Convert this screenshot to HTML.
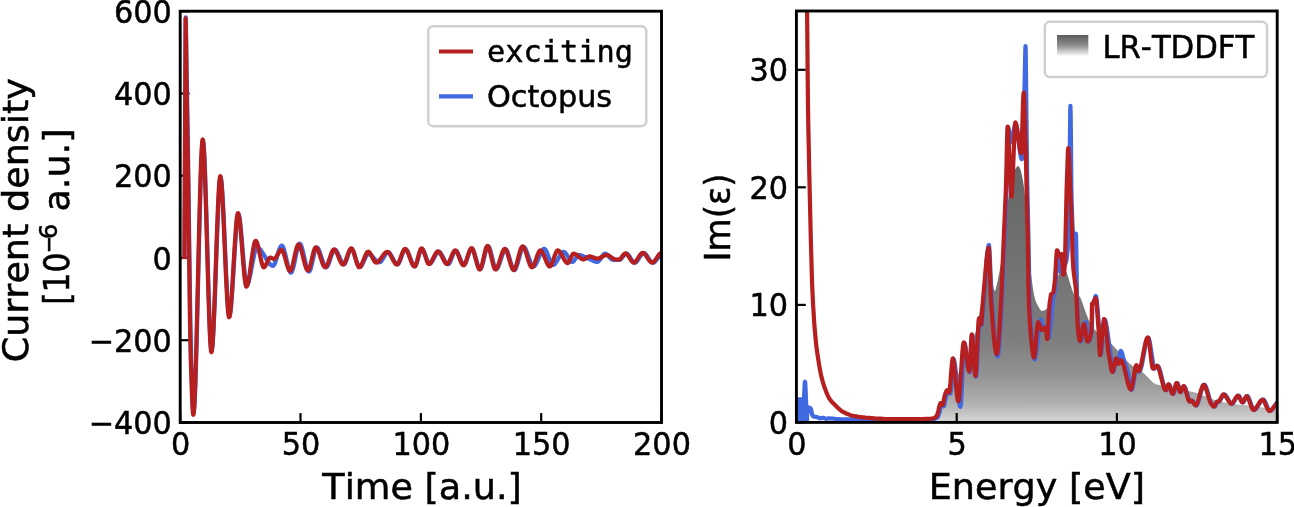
<!DOCTYPE html>
<html lang="en"><head><meta charset="utf-8"><title>RT-TDDFT: exciting vs Octopus</title>
<style>html,body{margin:0;padding:0;background:#fff}svg{display:block}text{font-family:"DejaVu Sans","Liberation Sans",sans-serif;fill:#000;font-kerning:none}.mono{font-family:"DejaVu Sans Mono","Liberation Mono",monospace}</style></head><body>
<svg width="1294" height="507" viewBox="0 0 1294 507">
<defs>
<linearGradient id="gfill" gradientUnits="userSpaceOnUse" x1="0" y1="166" x2="0" y2="422.4"><stop offset="0.000" stop-color="#666666"/><stop offset="0.328" stop-color="#707070"/><stop offset="0.523" stop-color="#787878"/><stop offset="0.679" stop-color="#7e7e7e"/><stop offset="0.819" stop-color="#939393"/><stop offset="0.928" stop-color="#b1b1b1"/><stop offset="1.000" stop-color="#d8d8d8"/></linearGradient>
<linearGradient id="gleg" x1="0" y1="0" x2="0" y2="1"><stop offset="0" stop-color="#5c5c5c"/><stop offset="0.5" stop-color="#8c8c8c"/><stop offset="1" stop-color="#f4f4f4"/></linearGradient>
<clipPath id="cl"><rect x="180.2" y="11.2" width="481.3" height="411.3"/></clipPath>
<clipPath id="cr"><rect x="796.4" y="11.0" width="480.8" height="411.4"/></clipPath>
</defs>
<rect width="1294" height="507" fill="#fff"/>
<path clip-path="url(#cr)" d="M937.5 422.4 L938.5 416.0 L939.5 411.0 L940.5 407.3 L941.5 404.5 L942.5 402.5 L944.5 399.0 L948.0 390.4 L952.5 380.6 L953.5 378.8 L954.5 377.4 L957.5 374.6 L959.0 372.7 L964.0 364.8 L966.0 361.4 L967.5 358.3 L968.5 355.9 L970.0 352.0 L971.5 347.6 L973.0 342.6 L974.5 337.0 L977.0 326.0 L978.5 318.0 L984.0 284.7 L986.5 271.4 L987.0 269.4 L987.5 268.0 L988.5 265.9 L989.0 265.3 L989.5 265.0 L990.0 265.4 L990.5 266.5 L991.5 270.0 L992.0 273.5 L993.0 284.4 L993.5 288.1 L994.0 289.6 L994.5 290.6 L995.0 291.0 L995.5 290.1 L997.5 281.7 L999.0 274.2 L1001.5 260.2 L1003.0 250.6 L1004.0 243.0 L1004.5 238.3 L1007.0 210.0 L1008.5 196.9 L1009.5 190.0 L1010.5 184.7 L1011.5 180.3 L1012.5 176.6 L1013.5 173.6 L1014.5 170.9 L1015.5 168.7 L1016.0 167.9 L1017.0 166.7 L1017.5 166.2 L1018.0 166.0 L1018.5 166.2 L1019.0 166.8 L1019.8 168.0 L1020.5 169.8 L1021.0 171.6 L1022.0 176.0 L1023.0 181.1 L1024.0 187.5 L1024.5 191.5 L1025.0 196.0 L1025.5 202.3 L1028.0 244.3 L1029.0 258.0 L1030.0 266.5 L1032.5 285.2 L1033.5 292.0 L1034.5 297.0 L1035.5 300.4 L1036.5 303.0 L1037.5 305.0 L1039.5 308.5 L1040.5 309.9 L1041.0 310.4 L1041.5 310.7 L1042.0 310.8 L1042.5 310.8 L1044.0 310.4 L1045.5 309.8 L1046.5 309.1 L1047.5 308.1 L1048.0 307.5 L1049.0 305.9 L1050.0 303.9 L1051.0 301.5 L1052.0 299.0 L1053.0 296.0 L1056.0 285.0 L1058.5 275.0 L1060.0 270.8 L1061.0 268.5 L1061.5 267.8 L1062.0 267.5 L1063.0 267.6 L1064.0 267.8 L1064.5 268.2 L1065.0 269.0 L1066.5 272.1 L1067.5 274.9 L1072.0 289.4 L1073.0 292.0 L1074.0 294.1 L1074.5 295.0 L1075.0 295.7 L1075.5 296.0 L1079.3 296.3 L1079.5 296.4 L1080.0 296.9 L1081.0 299.1 L1083.0 304.5 L1086.0 313.3 L1088.5 319.4 L1089.5 321.5 L1091.0 324.3 L1092.5 326.6 L1094.5 329.4 L1097.5 332.8 L1100.5 335.6 L1102.5 337.2 L1107.5 340.5 L1110.0 342.6 L1112.0 344.6 L1122.8 356.3 L1127.0 361.0 L1129.0 363.0 L1132.0 365.6 L1135.5 368.2 L1137.5 369.4 L1141.5 371.7 L1143.5 373.1 L1145.0 374.4 L1149.0 378.6 L1152.5 381.9 L1154.5 383.5 L1155.5 384.1 L1156.5 384.4 L1160.5 385.2 L1168.5 387.2 L1175.0 388.5 L1189.5 391.3 L1197.0 393.1 L1201.0 394.4 L1210.5 398.4 L1215.0 400.1 L1218.0 401.0 L1222.5 402.0 L1229.5 403.4 L1235.0 404.3 L1239.5 404.8 L1251.0 405.8 L1255.0 406.2 L1266.0 407.9 L1271.5 408.9 L1274.0 409.3 L1276.5 409.5 L1280.0 409.5 L1280.0 422.4 L937.5 422.4 Z" fill="url(#gfill)" stroke="none"/>
<g stroke="#000" stroke-width="2.2" fill="none">
<line x1="180.2" y1="422.5" x2="180.2" y2="413.1"/>
<line x1="300.5" y1="422.5" x2="300.5" y2="413.1"/>
<line x1="420.9" y1="422.5" x2="420.9" y2="413.1"/>
<line x1="541.2" y1="422.5" x2="541.2" y2="413.1"/>
<line x1="661.5" y1="422.5" x2="661.5" y2="413.1"/>
<line x1="180.2" y1="422.5" x2="189.6" y2="422.5"/>
<line x1="180.2" y1="340.2" x2="189.6" y2="340.2"/>
<line x1="180.2" y1="258.0" x2="189.6" y2="258.0"/>
<line x1="180.2" y1="175.7" x2="189.6" y2="175.7"/>
<line x1="180.2" y1="93.5" x2="189.6" y2="93.5"/>
<line x1="180.2" y1="11.2" x2="189.6" y2="11.2"/>
<line x1="796.4" y1="422.4" x2="796.4" y2="413.0"/>
<line x1="956.7" y1="422.4" x2="956.7" y2="413.0"/>
<line x1="1116.9" y1="422.4" x2="1116.9" y2="413.0"/>
<line x1="1277.2" y1="422.4" x2="1277.2" y2="413.0"/>
<line x1="796.4" y1="422.4" x2="805.8" y2="422.4"/>
<line x1="796.4" y1="304.9" x2="805.8" y2="304.9"/>
<line x1="796.4" y1="187.3" x2="805.8" y2="187.3"/>
<line x1="796.4" y1="69.8" x2="805.8" y2="69.8"/>
</g>
<g clip-path="url(#cl)" fill="none" stroke-linejoin="round" stroke-linecap="butt">
<path d="M184.5 259.0 L185.7 17.4 L185.9 21.8 L186.1 32.8 L186.6 68.0 L188.0 150.0 L190.1 303.6 L190.7 338.4 L191.2 360.0 L192.3 394.7 L192.9 407.9 L193.3 412.4 L193.5 413.0 L193.7 412.6 L193.9 411.6 L194.5 404.6 L194.9 397.1 L195.5 382.0 L196.7 341.3 L199.5 224.9 L200.7 181.5 L201.3 164.5 L201.9 151.6 L202.5 143.7 L202.7 142.3 L202.9 141.6 L203.0 141.5 L203.1 141.6 L203.3 142.2 L203.5 143.5 L203.9 147.9 L204.3 154.4 L204.9 167.6 L205.9 196.8 L208.5 288.6 L209.5 319.2 L210.1 333.6 L210.7 344.1 L211.1 348.5 L211.3 349.8 L211.5 350.4 L211.6 350.5 L211.9 349.9 L212.1 349.0 L212.5 345.7 L212.9 340.7 L213.5 330.7 L214.7 303.2 L217.3 230.6 L218.3 206.0 L218.9 194.1 L219.5 185.1 L220.1 179.5 L220.3 178.6 L220.6 178.0 L220.9 178.5 L221.1 179.3 L221.5 182.0 L221.9 186.1 L222.5 194.5 L223.7 217.2 L226.1 272.2 L227.3 296.0 L227.9 305.1 L228.5 311.8 L228.9 314.5 L229.1 315.3 L229.4 315.8 L229.7 315.5 L229.9 314.9 L230.5 311.6 L231.1 306.3 L231.7 299.3 L232.7 284.9 L235.3 242.3 L236.5 226.1 L237.1 220.2 L237.5 217.3 L237.9 215.4 L238.1 214.8 L238.4 214.5 L238.7 214.8 L238.9 215.2 L239.3 216.7 L239.9 220.3 L240.5 225.3 L241.5 235.8 L243.9 264.9 L245.1 276.9 L245.7 281.2 L246.1 283.2 L246.5 284.6 L246.7 284.9 L246.9 285.0 L247.3 284.8 L247.9 284.0 L248.5 282.5 L249.1 280.4 L250.5 274.1 L253.1 260.0 L254.3 254.1 L254.9 251.7 L255.5 249.7 L256.1 248.3 L256.7 247.6 L257.0 247.5 L257.5 247.6 L258.3 247.8 L259.1 248.4 L260.3 249.5 L261.3 250.8 L262.5 252.6 L266.9 259.9 L268.9 262.9 L270.1 264.3 L271.1 265.1 L272.1 265.7 L272.9 265.8 L273.5 265.5 L273.9 265.1 L274.5 264.1 L275.1 262.7 L276.3 259.2 L278.7 251.2 L279.5 248.9 L280.1 247.5 L280.7 246.4 L281.1 246.0 L281.7 245.6 L282.1 245.7 L282.5 246.1 L283.1 247.1 L284.1 249.8 L285.3 254.4 L287.7 264.7 L288.9 269.1 L289.9 271.6 L290.5 272.5 L291.0 272.7 L291.5 272.4 L292.1 271.4 L293.1 268.4 L294.3 263.4 L296.7 251.7 L297.9 246.9 L298.5 245.2 L298.9 244.4 L299.3 243.9 L299.7 243.7 L300.1 243.8 L300.7 244.6 L301.3 245.9 L301.7 247.0 L302.9 251.3 L305.5 262.7 L306.7 267.3 L307.3 269.1 L307.9 270.5 L308.5 271.4 L309.0 271.6 L309.3 271.5 L309.5 271.3 L309.9 270.7 L310.3 269.8 L310.9 268.0 L311.9 264.1 L314.1 254.1 L315.1 250.3 L315.9 248.3 L316.3 247.7 L316.5 247.5 L316.8 247.4 L317.3 247.6 L317.7 247.9 L318.7 249.5 L319.9 252.5 L322.7 261.1 L323.9 264.3 L324.5 265.6 L325.1 266.6 L325.7 267.1 L326.2 267.3 L326.7 267.1 L327.1 266.8 L327.5 266.2 L328.1 265.1 L329.3 262.1 L331.5 255.4 L332.5 252.7 L333.5 250.7 L334.3 249.8 L334.8 249.6 L335.3 249.7 L335.9 250.2 L336.5 250.9 L337.9 253.5 L340.5 259.5 L341.7 262.0 L342.3 263.0 L342.9 263.7 L343.5 264.2 L344.0 264.3 L344.3 264.2 L344.7 263.9 L345.1 263.3 L345.7 262.1 L346.7 259.4 L348.9 252.5 L349.7 250.5 L350.5 249.2 L350.9 248.9 L351.2 248.8 L351.7 249.0 L352.1 249.4 L352.5 249.9 L353.1 251.1 L354.1 253.6 L356.5 261.0 L357.7 264.3 L358.3 265.5 L358.9 266.4 L359.3 266.8 L359.8 267.0 L360.3 266.9 L360.7 266.6 L361.7 265.4 L362.9 263.1 L365.1 258.3 L366.1 256.3 L367.1 254.8 L367.9 254.1 L368.4 254.0 L369.1 254.1 L369.9 254.4 L370.7 254.9 L372.3 256.4 L375.7 260.1 L376.9 261.1 L378.3 262.0 L378.9 262.2 L379.5 262.3 L379.9 262.2 L380.5 261.9 L381.5 260.9 L382.5 259.4 L384.7 255.6 L385.9 253.7 L386.9 252.7 L387.3 252.4 L387.9 252.2 L388.5 252.3 L389.1 252.7 L389.7 253.2 L390.3 254.0 L391.5 255.9 L394.3 261.1 L395.5 262.9 L396.1 263.6 L396.7 264.1 L397.1 264.2 L397.7 264.3 L398.1 264.1 L398.5 263.6 L399.5 261.9 L400.5 259.5 L402.7 253.4 L403.7 251.2 L404.3 250.1 L404.7 249.6 L405.1 249.3 L405.5 249.2 L406.1 249.4 L406.5 249.8 L407.5 251.2 L408.7 253.9 L411.3 260.9 L412.3 263.3 L412.9 264.4 L413.5 265.4 L413.9 265.9 L414.5 266.2 L414.9 266.3 L415.3 266.1 L415.7 265.5 L416.3 264.3 L417.3 261.3 L419.3 254.0 L420.1 251.6 L420.9 249.8 L421.3 249.2 L421.8 249.0 L422.3 249.2 L422.7 249.6 L423.5 250.8 L424.5 253.1 L427.5 261.2 L428.5 263.0 L428.9 263.5 L429.3 263.7 L429.7 263.8 L430.3 263.6 L430.9 263.1 L431.5 262.5 L432.7 260.6 L435.5 255.3 L436.7 253.4 L437.3 252.7 L437.9 252.1 L438.3 251.9 L438.9 251.8 L439.3 251.9 L439.9 252.3 L440.5 252.9 L441.1 253.8 L442.3 255.8 L444.9 261.0 L446.1 262.9 L446.7 263.6 L447.3 264.1 L447.9 264.3 L448.3 264.2 L448.7 264.0 L449.1 263.6 L450.1 261.9 L451.1 259.6 L453.1 254.5 L454.1 252.4 L454.9 251.3 L455.3 251.0 L455.8 250.8 L456.3 251.0 L456.7 251.3 L457.7 252.8 L458.9 255.5 L461.1 261.2 L462.1 263.4 L462.7 264.3 L463.1 264.7 L463.5 264.9 L463.9 265.0 L464.3 264.8 L464.9 264.2 L465.9 262.2 L466.7 260.1 L469.1 252.9 L470.1 250.5 L470.7 249.4 L471.1 248.9 L471.5 248.7 L471.9 248.6 L472.5 249.0 L472.9 249.6 L473.9 251.9 L474.9 255.1 L477.3 263.8 L478.3 266.7 L478.7 267.6 L479.3 268.7 L479.7 269.1 L480.1 269.2 L480.5 269.0 L481.1 268.2 L482.1 265.7 L483.1 262.1 L485.3 253.0 L486.5 248.9 L487.1 247.4 L487.5 246.8 L487.9 246.4 L488.3 246.3 L488.7 246.6 L489.1 247.1 L489.5 247.9 L490.1 249.6 L491.1 253.2 L493.9 264.7 L494.9 267.7 L495.3 268.5 L495.7 269.0 L496.1 269.3 L496.7 269.1 L497.3 268.5 L498.1 267.2 L499.5 263.6 L502.1 255.6 L503.3 252.3 L503.9 251.0 L504.5 250.1 L505.1 249.5 L505.6 249.3 L506.1 249.5 L506.5 249.9 L507.1 250.9 L507.7 252.4 L508.9 256.0 L511.3 264.5 L512.5 267.9 L513.1 269.1 L513.5 269.7 L513.9 270.1 L514.3 270.2 L514.7 270.1 L515.3 269.4 L515.9 268.4 L516.3 267.4 L517.5 263.9 L520.1 254.4 L521.3 250.6 L521.9 249.0 L522.5 247.9 L523.1 247.2 L523.5 247.0 L523.9 247.1 L524.5 247.4 L525.1 248.2 L525.7 249.3 L527.1 252.6 L529.7 260.1 L531.1 263.6 L531.7 264.8 L532.3 265.7 L532.9 266.3 L533.5 266.5 L533.9 266.4 L534.5 266.1 L535.3 265.2 L535.9 264.2 L537.3 261.4 L540.1 254.6 L541.5 251.6 L542.3 250.3 L542.9 249.5 L543.5 249.0 L544.1 248.8 L544.7 248.9 L545.1 249.3 L546.1 250.7 L547.3 253.4 L549.5 259.4 L550.7 262.3 L551.3 263.4 L551.9 264.3 L552.5 264.9 L553.0 265.0 L553.5 264.9 L554.1 264.6 L554.7 264.1 L555.3 263.4 L556.7 261.4 L559.7 255.9 L560.9 254.0 L561.5 253.2 L562.3 252.4 L562.9 252.0 L563.5 251.8 L563.9 251.8 L564.5 252.1 L565.5 253.0 L566.7 254.8 L568.9 258.7 L569.9 260.3 L570.5 261.0 L571.1 261.6 L571.5 261.9 L572.1 262.0 L572.9 261.7 L573.7 261.1 L574.5 260.1 L577.1 256.3 L578.1 255.3 L578.5 255.1 L578.9 255.0 L580.5 255.2 L582.5 255.9 L586.9 258.0 L589.1 258.9 L593.9 261.2 L595.7 261.7 L597.3 261.9 L598.1 261.7 L598.9 261.0 L600.1 259.5 L602.3 256.1 L603.1 255.1 L604.1 254.0 L604.9 253.6 L605.3 253.6 L605.9 253.7 L607.1 254.5 L608.1 255.5 L610.7 258.5 L611.5 259.2 L612.3 259.7 L612.9 259.8 L619.5 259.8 L620.3 259.6 L621.3 258.8 L623.9 255.4 L624.9 254.3 L625.7 253.8 L626.5 253.6 L626.9 253.7 L627.5 254.0 L628.5 255.0 L629.5 256.4 L631.9 260.3 L633.1 261.8 L634.1 262.6 L634.9 262.8 L635.5 262.6 L635.9 262.4 L637.1 261.2 L638.3 259.4 L640.5 255.9 L641.7 254.3 L642.7 253.3 L643.3 253.1 L643.7 253.0 L644.3 253.1 L644.9 253.4 L646.1 254.6 L647.1 256.0 L649.9 260.3 L651.1 261.7 L652.1 262.5 L652.5 262.7 L653.1 262.8 L653.5 262.7 L654.1 262.5 L655.3 261.4 L656.5 260.0 L659.1 256.5 L660.3 255.2 L660.9 254.8 L661.5 254.5 L662.9 254.1 L664.0 254.0" stroke="#4169e1" stroke-width="4.2"/>
<path d="M184.4 259.0 L185.6 18.4 L185.8 25.6 L186.3 68.0 L188.2 183.5 L189.8 310.0 L190.2 333.9 L190.8 360.0 L192.0 396.2 L192.6 408.8 L193.0 413.6 L193.2 414.6 L193.3 414.7 L193.4 414.6 L193.6 413.9 L193.8 412.4 L194.2 407.6 L194.6 400.4 L195.2 385.5 L196.4 344.6 L199.2 225.6 L200.4 180.9 L201.0 163.2 L201.6 149.9 L202.2 141.8 L202.4 140.3 L202.6 139.6 L202.7 139.5 L202.8 139.6 L203.0 140.2 L203.2 141.5 L203.6 145.9 L204.2 156.3 L204.8 170.7 L206.0 208.1 L208.4 293.8 L209.6 328.6 L210.2 341.2 L210.6 347.1 L211.0 350.9 L211.2 351.9 L211.4 352.2 L211.6 351.9 L211.8 351.2 L212.4 346.0 L213.0 337.2 L213.6 325.2 L214.8 294.8 L217.2 225.4 L218.4 196.8 L219.0 186.4 L219.4 181.2 L219.8 177.8 L220.0 176.8 L220.3 176.2 L220.6 176.7 L220.8 177.5 L221.4 182.3 L222.4 196.5 L223.6 220.8 L226.0 277.1 L227.2 300.4 L227.8 309.0 L228.2 313.2 L228.6 316.0 L228.8 316.8 L229.1 317.3 L229.4 316.9 L229.6 316.4 L230.0 314.3 L230.4 311.3 L231.0 305.1 L232.2 288.2 L234.6 247.1 L235.8 229.1 L236.4 222.0 L237.0 216.8 L237.6 213.7 L237.8 213.3 L238.0 213.1 L238.2 213.2 L238.4 213.6 L238.8 215.0 L239.2 217.2 L239.8 221.8 L241.0 234.5 L243.2 262.7 L244.2 274.1 L244.8 279.6 L245.4 283.7 L246.0 286.1 L246.2 286.5 L246.4 286.6 L246.8 286.4 L247.4 285.1 L247.8 283.8 L248.4 281.2 L249.6 274.1 L252.2 255.4 L253.4 247.8 L254.0 244.8 L254.6 242.6 L255.2 241.2 L255.4 240.9 L255.7 240.8 L256.2 241.1 L256.6 241.7 L257.0 242.6 L257.6 244.5 L258.6 248.6 L260.8 259.1 L261.6 262.5 L262.6 265.7 L263.0 266.6 L263.4 267.1 L263.8 267.3 L264.2 267.2 L264.6 266.9 L265.2 266.1 L266.0 264.7 L268.4 259.6 L269.0 258.6 L269.6 257.9 L270.0 257.7 L270.6 257.6 L271.2 257.8 L273.0 258.7 L273.6 258.9 L274.2 258.9 L274.8 258.6 L275.6 257.9 L276.4 256.7 L278.8 252.6 L279.8 251.1 L280.4 250.4 L280.8 250.1 L281.2 249.9 L281.6 249.9 L282.0 250.1 L282.6 250.8 L283.6 253.1 L284.6 256.1 L287.2 265.4 L288.2 268.4 L288.8 269.7 L289.2 270.4 L289.6 270.8 L290.1 271.0 L290.6 270.7 L291.2 269.8 L292.2 266.9 L293.2 262.8 L295.6 251.8 L296.6 247.9 L297.2 246.2 L297.6 245.3 L298.0 244.8 L298.5 244.5 L299.0 244.7 L299.6 245.5 L300.6 247.8 L301.8 251.9 L304.4 262.4 L305.6 266.6 L306.2 268.3 L306.8 269.5 L307.4 270.3 L307.9 270.5 L308.4 270.2 L308.8 269.7 L309.6 267.8 L310.6 264.2 L312.8 254.9 L313.8 251.1 L314.8 248.4 L315.4 247.6 L315.8 247.4 L316.4 247.6 L317.0 248.3 L317.6 249.3 L318.2 250.6 L319.4 253.9 L322.0 261.9 L323.2 265.0 L324.2 266.7 L324.6 267.1 L325.2 267.3 L325.8 267.1 L326.2 266.7 L327.2 265.0 L328.4 262.0 L331.6 252.8 L332.6 250.8 L333.2 249.9 L333.6 249.6 L334.1 249.4 L334.6 249.5 L335.2 250.0 L335.8 250.8 L337.0 253.2 L339.8 260.1 L340.8 262.2 L341.4 263.2 L342.0 264.0 L342.6 264.4 L343.0 264.5 L343.4 264.4 L343.8 264.1 L344.2 263.6 L344.8 262.6 L346.0 259.8 L348.2 253.6 L349.2 251.1 L349.8 249.9 L350.4 249.0 L350.8 248.6 L351.4 248.4 L351.8 248.5 L352.2 248.9 L353.0 250.4 L354.0 253.2 L356.4 261.5 L357.4 264.6 L358.0 265.9 L358.4 266.6 L358.8 267.1 L359.3 267.3 L359.8 267.2 L360.2 266.9 L361.2 265.5 L362.4 262.9 L364.8 256.8 L366.0 254.1 L366.6 253.0 L367.2 252.2 L367.8 251.8 L368.2 251.7 L368.6 251.8 L369.0 252.0 L369.8 252.8 L371.0 254.8 L373.2 259.1 L374.2 260.9 L375.2 262.1 L375.6 262.4 L376.2 262.6 L376.8 262.5 L377.6 262.1 L378.4 261.5 L379.0 260.9 L380.6 258.9 L383.6 254.7 L385.2 252.9 L385.8 252.4 L386.6 252.0 L387.2 251.9 L387.8 252.0 L388.2 252.2 L388.8 252.7 L390.0 254.3 L391.0 256.1 L393.6 261.1 L394.8 262.9 L395.4 263.7 L396.0 264.2 L396.6 264.5 L397.2 264.4 L397.6 264.2 L398.2 263.4 L399.2 261.5 L402.2 253.4 L403.2 251.0 L404.2 249.4 L404.6 249.1 L405.1 248.9 L405.6 249.0 L406.2 249.6 L406.8 250.4 L407.6 252.0 L408.8 254.9 L411.2 261.5 L412.4 264.3 L413.0 265.3 L413.6 266.1 L414.2 266.4 L414.6 266.5 L415.0 266.2 L415.4 265.7 L415.8 264.9 L416.4 263.3 L417.2 260.6 L419.0 253.9 L420.0 250.7 L420.8 249.0 L421.2 248.6 L421.6 248.4 L422.0 248.5 L422.4 248.9 L423.2 250.3 L424.2 252.8 L427.0 261.2 L428.0 263.2 L428.4 263.7 L428.8 264.0 L429.2 264.0 L429.8 263.7 L430.8 262.7 L432.0 260.7 L434.6 255.4 L435.8 253.3 L436.4 252.4 L437.0 251.8 L437.6 251.5 L438.0 251.4 L438.4 251.5 L439.0 251.8 L439.6 252.4 L440.2 253.3 L441.4 255.4 L444.0 260.7 L445.2 262.7 L445.8 263.4 L446.4 263.8 L447.0 264.0 L447.4 263.9 L447.8 263.6 L448.2 263.2 L449.2 261.6 L450.2 259.5 L452.4 254.2 L453.4 252.2 L454.4 250.8 L454.8 250.5 L455.3 250.4 L455.8 250.6 L456.4 251.1 L457.4 252.8 L458.4 255.2 L460.6 261.0 L461.8 263.6 L462.2 264.3 L462.8 265.0 L463.2 265.2 L463.6 265.3 L464.0 265.1 L464.6 264.4 L465.6 262.4 L466.6 259.7 L468.8 252.9 L469.8 250.4 L470.4 249.2 L470.8 248.7 L471.2 248.3 L471.6 248.2 L472.0 248.3 L472.6 249.1 L473.6 251.4 L474.6 254.7 L477.0 263.8 L478.0 266.9 L478.6 268.3 L479.0 268.9 L479.4 269.4 L479.8 269.5 L480.2 269.3 L480.6 268.8 L481.4 266.9 L482.4 263.2 L484.6 253.4 L485.6 249.5 L486.2 247.7 L486.6 246.8 L487.0 246.2 L487.2 246.0 L487.5 245.9 L488.0 246.2 L488.4 246.7 L489.2 248.6 L490.2 252.2 L492.4 261.6 L493.4 265.5 L494.0 267.3 L494.6 268.7 L495.0 269.2 L495.5 269.5 L496.0 269.3 L496.6 268.7 L497.2 267.7 L497.8 266.3 L499.0 262.9 L501.6 254.5 L502.8 251.3 L503.8 249.6 L504.4 249.0 L504.8 248.9 L505.2 249.0 L505.8 249.6 L506.4 250.7 L507.0 252.1 L508.0 255.1 L510.8 264.7 L512.0 268.0 L512.6 269.1 L513.2 269.8 L513.7 270.0 L514.2 269.8 L514.8 269.0 L515.2 268.2 L516.2 265.5 L517.2 261.9 L519.4 253.4 L520.6 249.4 L521.0 248.4 L521.6 247.2 L522.2 246.5 L522.6 246.4 L523.2 246.6 L523.6 247.1 L524.6 248.8 L526.0 252.6 L528.6 261.1 L529.6 263.9 L530.2 265.3 L530.8 266.4 L531.4 267.1 L532.0 267.3 L532.4 267.2 L533.0 266.6 L533.6 265.7 L534.2 264.4 L535.2 261.8 L537.6 254.8 L538.6 252.4 L539.0 251.7 L539.6 250.8 L540.0 250.5 L540.4 250.4 L541.0 250.6 L541.6 251.1 L542.2 251.9 L542.8 253.0 L544.0 255.7 L546.6 262.2 L547.8 264.6 L548.8 266.0 L549.4 266.4 L549.8 266.5 L550.2 266.4 L550.6 266.1 L551.4 264.8 L552.6 262.0 L554.8 255.5 L555.8 252.9 L556.8 251.1 L557.4 250.5 L557.8 250.4 L558.4 250.5 L559.0 250.9 L560.2 252.3 L561.4 254.3 L564.4 259.9 L565.6 261.7 L566.6 262.7 L567.2 263.0 L567.6 263.1 L568.0 263.0 L568.4 262.6 L569.2 261.4 L571.4 256.6 L572.4 254.7 L573.0 254.0 L573.6 253.7 L574.6 253.9 L576.0 254.5 L577.2 255.4 L580.8 258.4 L582.0 259.1 L583.0 259.4 L583.8 259.4 L584.6 259.1 L585.4 258.7 L587.8 256.9 L588.6 256.6 L589.2 256.4 L590.0 256.4 L591.4 256.7 L594.8 258.0 L596.2 258.4 L597.4 258.5 L598.4 258.4 L599.2 258.2 L600.4 257.7 L603.2 256.1 L604.6 255.5 L605.8 255.1 L606.8 255.0 L607.8 255.2 L609.0 255.7 L612.8 258.4 L614.4 259.3 L615.5 259.5 L619.0 259.6 L619.4 259.5 L619.8 259.3 L620.6 258.6 L623.2 255.1 L624.2 254.0 L625.0 253.5 L625.6 253.4 L626.0 253.5 L626.6 253.9 L627.6 255.0 L628.6 256.4 L630.8 259.9 L632.0 261.5 L633.0 262.4 L633.8 262.6 L634.2 262.5 L634.8 262.3 L635.8 261.4 L636.8 260.0 L639.4 255.9 L640.4 254.5 L641.4 253.5 L642.0 253.1 L642.4 252.9 L642.8 252.9 L643.4 253.1 L644.0 253.4 L644.6 253.9 L645.8 255.4 L648.6 259.6 L649.6 260.9 L650.8 262.1 L651.4 262.4 L652.0 262.6 L652.6 262.5 L653.2 262.2 L654.4 261.2 L655.6 259.6 L658.4 255.4 L659.4 254.2 L660.2 253.5 L661.0 253.1 L661.8 253.0 L662.8 253.3 L664.0 254.0" stroke="#b51f1f" stroke-width="4.2"/>
</g>
<g clip-path="url(#cr)" fill="none" stroke-linejoin="round" stroke-linecap="butt">
<path d="M797.6 399.3 L798.0 420.5 L798.4 399.3 L798.8 420.5 L799.2 399.3 L799.6 420.5 L800.0 399.3 L800.4 420.5 L800.8 399.3 L801.2 420.5 L801.6 399.3 L802.0 420.5 L802.4 399.3 L803.0 420.5 L804.7 383.0 L805.0 381.7 L805.3 383.0 L806.9 420.5 L807.8 407.2 L809.1 407.5 L809.6 407.7 L810.4 408.2 L810.9 408.8 L811.1 409.6 L812.1 414.4 L812.6 415.4 L813.1 416.2 L813.4 416.5 L813.9 416.6 L817.1 417.0 L819.1 418.1 L819.9 418.3 L820.6 418.2 L822.4 417.9 L823.0 417.8 L823.6 417.9 L825.4 418.7 L825.9 418.8 L826.6 418.7 L828.4 418.4 L829.4 418.3 L833.1 418.5 L836.0 419.0 L839.6 419.2 L856.4 419.6 L870.9 419.7 L920.6 419.7 L930.9 419.3 L933.6 419.1 L934.9 418.9 L935.9 418.5 L936.9 417.9 L937.7 417.2 L938.1 416.5 L938.6 415.1 L939.5 412.2 L940.6 406.9 L941.1 405.6 L941.6 404.6 L941.9 404.3 L942.1 404.3 L942.6 404.9 L943.4 406.1 L943.6 406.3 L943.9 406.2 L944.1 405.7 L944.4 404.6 L945.1 400.4 L946.1 396.4 L946.9 394.0 L947.9 391.9 L948.1 391.6 L948.4 391.5 L948.6 391.6 L949.1 392.1 L949.9 393.2 L950.4 393.5 L950.6 392.7 L950.9 390.8 L951.6 382.1 L952.4 369.9 L952.9 363.5 L953.1 360.8 L953.4 359.2 L953.5 359.0 L953.6 359.1 L953.9 359.5 L954.4 361.2 L955.1 365.9 L956.1 374.7 L958.1 394.9 L958.9 401.0 L959.6 405.2 L960.1 406.6 L960.4 406.8 L960.6 406.1 L960.9 404.1 L961.4 396.8 L963.1 357.8 L963.6 348.9 L964.1 343.7 L964.4 343.0 L964.6 343.2 L964.9 343.7 L965.6 346.9 L966.4 352.0 L967.9 363.8 L968.6 368.6 L969.1 370.8 L969.4 371.6 L969.6 371.9 L969.8 372.0 L969.9 371.8 L970.1 370.0 L970.4 366.6 L971.4 345.9 L971.9 337.5 L972.1 335.4 L972.3 335.0 L972.4 335.1 L972.6 336.0 L973.1 340.6 L975.1 370.9 L975.6 375.5 L975.9 376.4 L976.0 376.5 L976.1 376.2 L976.4 374.6 L976.9 367.9 L978.4 335.2 L979.1 322.2 L979.4 319.9 L979.7 318.8 L979.9 319.0 L980.1 319.7 L980.9 323.1 L981.4 324.8 L981.6 325.0 L981.9 324.1 L982.1 322.2 L986.9 258.4 L987.4 253.0 L987.9 248.8 L988.4 246.0 L988.6 245.2 L988.9 245.0 L989.1 245.9 L989.6 252.2 L991.6 297.8 L993.9 328.3 L994.9 340.1 L995.9 349.5 L996.4 352.9 L996.9 355.2 L997.1 356.0 L997.4 356.4 L997.6 356.5 L997.9 356.1 L998.1 355.1 L998.6 351.8 L999.1 346.7 L999.6 340.2 L1000.9 319.9 L1002.4 291.7 L1004.0 249.0 L1005.9 206.3 L1006.6 186.5 L1007.6 141.2 L1007.9 132.0 L1008.1 127.6 L1008.2 127.5 L1008.4 127.7 L1008.9 129.3 L1010.6 140.0 L1011.1 141.8 L1011.4 142.0 L1011.6 141.8 L1011.9 141.3 L1012.4 139.3 L1014.1 128.6 L1014.9 124.9 L1015.1 124.1 L1015.4 123.6 L1015.6 123.5 L1015.9 123.7 L1016.1 124.3 L1016.6 126.2 L1017.4 130.8 L1019.6 149.2 L1020.4 154.5 L1021.1 158.0 L1021.4 158.7 L1021.6 159.0 L1021.8 159.1 L1021.9 158.9 L1022.1 157.1 L1022.4 153.5 L1023.1 134.7 L1024.4 92.0 L1025.2 54.7 L1025.4 47.0 L1025.5 46.2 L1025.7 49.1 L1025.9 64.2 L1026.6 130.0 L1027.3 185.0 L1028.6 245.0 L1029.6 300.0 L1030.4 318.2 L1031.2 329.6 L1033.2 352.0 L1033.9 357.6 L1034.2 358.7 L1034.4 359.3 L1034.7 359.5 L1034.9 359.2 L1035.2 358.6 L1035.9 355.1 L1036.9 347.5 L1039.2 327.2 L1039.9 322.4 L1040.4 320.4 L1040.7 319.9 L1040.9 319.7 L1041.2 320.0 L1041.4 320.9 L1042.4 326.4 L1042.7 327.4 L1042.9 327.9 L1043.2 328.0 L1043.7 327.8 L1045.4 326.7 L1045.9 326.5 L1046.2 326.6 L1046.4 327.3 L1046.7 328.4 L1047.7 334.9 L1048.2 337.4 L1048.4 337.9 L1048.5 338.0 L1048.7 337.9 L1048.9 337.3 L1049.2 336.3 L1049.9 331.1 L1051.4 317.1 L1052.7 301.4 L1053.2 296.8 L1053.7 294.9 L1054.4 293.4 L1054.7 292.6 L1054.9 291.4 L1055.2 288.9 L1056.2 272.4 L1057.2 252.2 L1057.3 251.0 L1057.4 251.1 L1057.7 252.4 L1058.9 267.4 L1059.2 269.6 L1059.4 270.9 L1059.5 271.0 L1060.2 270.9 L1060.7 270.7 L1061.7 270.0 L1062.7 268.9 L1063.9 266.9 L1065.2 264.2 L1066.2 261.5 L1066.7 259.1 L1066.9 257.3 L1067.7 249.7 L1068.2 242.5 L1068.4 237.8 L1068.7 228.9 L1069.2 200.0 L1070.2 114.0 L1070.4 105.8 L1070.7 114.7 L1071.4 187.5 L1071.6 200.0 L1072.4 223.9 L1073.7 247.6 L1073.9 250.6 L1074.2 252.0 L1074.2 252.0 L1074.4 251.3 L1074.7 248.8 L1075.4 237.4 L1075.7 234.6 L1075.9 233.5 L1076.2 240.8 L1077.0 295.0 L1077.7 314.4 L1078.2 324.3 L1078.6 330.0 L1079.7 338.7 L1080.2 341.0 L1080.4 341.5 L1080.7 341.4 L1080.9 341.2 L1081.2 340.7 L1081.7 339.1 L1082.4 335.8 L1084.4 325.3 L1085.2 322.7 L1085.4 322.2 L1085.8 321.9 L1085.9 322.0 L1086.2 323.0 L1086.4 325.0 L1087.4 336.4 L1087.9 340.7 L1088.2 341.5 L1088.7 341.4 L1088.9 341.2 L1089.4 340.6 L1089.7 340.2 L1090.2 339.0 L1090.7 337.2 L1091.2 334.8 L1091.9 330.0 L1092.4 303.8 L1092.7 303.3 L1093.4 302.7 L1093.7 302.4 L1094.2 300.9 L1095.2 296.9 L1095.4 296.3 L1095.7 296.0 L1095.9 296.2 L1096.2 296.9 L1096.7 299.7 L1097.7 309.6 L1099.2 330.0 L1100.2 350.2 L1100.4 353.9 L1100.6 355.0 L1100.9 354.4 L1101.2 353.2 L1101.7 348.9 L1103.2 330.1 L1103.9 322.4 L1104.4 319.8 L1104.6 319.5 L1104.9 319.7 L1105.4 320.7 L1105.9 322.4 L1106.9 327.9 L1109.7 348.6 L1110.9 357.0 L1112.2 366.8 L1112.7 369.8 L1112.9 370.8 L1113.2 371.4 L1113.4 371.5 L1113.7 371.1 L1113.9 370.4 L1114.4 368.2 L1115.7 361.2 L1116.2 359.2 L1116.4 358.7 L1116.7 358.6 L1117.2 358.9 L1118.2 359.8 L1118.7 360.0 L1118.9 359.5 L1119.2 358.5 L1119.9 353.9 L1120.4 351.5 L1120.7 351.0 L1120.9 351.1 L1121.2 351.3 L1121.7 352.2 L1122.2 353.7 L1123.9 360.0 L1126.4 367.7 L1127.9 372.9 L1128.7 376.1 L1130.7 387.5 L1131.2 389.2 L1131.4 389.7 L1131.6 389.8 L1131.9 389.6 L1132.2 389.1 L1132.9 386.2 L1135.2 372.1 L1135.7 369.4 L1136.2 367.3 L1136.7 366.1 L1136.9 366.0 L1137.2 366.2 L1137.7 367.4 L1138.7 370.7 L1138.9 371.2 L1139.2 371.5 L1139.4 371.4 L1139.7 371.3 L1140.2 370.5 L1140.4 369.9 L1141.2 367.6 L1142.2 363.3 L1144.9 348.7 L1146.2 342.9 L1146.9 340.2 L1147.4 338.9 L1147.9 338.1 L1148.2 337.9 L1148.4 337.8 L1148.7 338.0 L1148.9 338.5 L1149.7 341.5 L1152.2 357.4 L1153.4 366.0 L1153.9 368.3 L1154.2 368.7 L1154.7 368.6 L1155.2 368.1 L1156.7 366.4 L1156.9 366.1 L1157.4 365.9 L1157.9 366.1 L1158.2 366.3 L1158.7 367.0 L1159.4 368.8 L1160.2 371.2 L1162.9 382.1 L1163.9 385.8 L1164.7 388.0 L1165.4 389.5 L1165.9 390.1 L1166.2 390.2 L1166.4 390.2 L1166.7 389.9 L1167.2 388.9 L1168.4 385.3 L1168.7 384.9 L1168.9 384.6 L1169.2 384.6 L1169.7 385.2 L1170.2 386.4 L1172.2 392.6 L1172.7 393.6 L1172.9 393.8 L1173.2 393.9 L1173.4 393.7 L1173.7 393.4 L1174.2 392.2 L1176.2 385.2 L1176.7 383.9 L1177.2 383.2 L1177.4 383.2 L1177.7 383.5 L1177.9 383.9 L1178.4 385.4 L1179.9 390.9 L1180.4 391.9 L1180.7 392.1 L1180.9 392.0 L1181.4 391.5 L1183.4 387.0 L1183.9 386.5 L1184.2 386.4 L1184.4 386.5 L1184.9 387.1 L1185.7 388.8 L1188.4 398.3 L1188.9 399.7 L1189.4 400.8 L1189.9 401.4 L1190.2 401.5 L1190.7 401.4 L1191.9 400.7 L1192.2 400.7 L1192.7 400.9 L1193.4 401.8 L1195.2 404.6 L1195.9 405.3 L1196.4 405.4 L1196.9 404.9 L1197.4 404.1 L1197.9 403.0 L1198.9 399.9 L1201.2 391.4 L1202.2 388.0 L1203.2 385.6 L1203.7 384.9 L1204.2 384.6 L1204.7 384.8 L1205.2 385.3 L1205.7 386.2 L1206.2 387.4 L1207.2 390.4 L1209.7 399.1 L1210.9 402.4 L1211.4 403.4 L1212.9 405.4 L1213.7 406.1 L1214.2 406.4 L1214.7 406.5 L1215.2 406.0 L1216.9 402.4 L1217.4 401.8 L1217.7 401.6 L1219.2 401.5 L1219.4 401.3 L1219.9 400.8 L1220.7 399.6 L1222.7 395.6 L1223.4 394.7 L1224.0 394.4 L1224.4 394.5 L1224.9 394.7 L1225.7 395.4 L1226.7 396.8 L1228.9 400.7 L1229.9 402.2 L1230.9 403.3 L1231.4 403.6 L1231.9 403.7 L1232.2 403.7 L1232.7 403.4 L1233.4 402.6 L1234.2 401.5 L1236.7 397.1 L1237.4 396.2 L1237.9 395.8 L1238.4 395.6 L1238.7 395.6 L1239.2 396.0 L1239.9 397.2 L1241.9 401.4 L1242.4 402.1 L1242.7 402.3 L1243.0 402.4 L1243.4 402.2 L1243.9 401.6 L1245.9 397.3 L1246.4 396.5 L1246.9 396.0 L1247.4 396.1 L1247.7 396.2 L1248.2 396.8 L1248.9 398.3 L1249.9 400.9 L1251.7 406.0 L1252.7 408.4 L1253.4 409.5 L1253.7 409.7 L1254.1 409.9 L1254.7 409.8 L1255.2 409.5 L1256.2 408.6 L1257.4 406.8 L1260.7 401.5 L1261.7 400.3 L1262.2 399.9 L1262.7 399.6 L1263.2 399.5 L1263.7 399.6 L1264.4 400.4 L1265.4 402.3 L1267.7 407.8 L1268.4 409.3 L1269.2 410.4 L1269.7 410.8 L1270.0 410.9 L1270.4 410.8 L1270.9 410.6 L1271.9 409.7 L1272.9 408.4 L1275.7 404.2 L1276.7 403.0 L1277.2 402.5 L1278.4 401.7 L1280.0 401.0" stroke="#4169e1" stroke-width="4.2"/>
<path d="M806.8 -20.0 L807.9 100.0 L808.3 125.1 L809.3 173.7 L810.8 238.7 L812.0 281.3 L813.0 303.0 L813.8 315.9 L814.5 326.8 L815.8 341.0 L816.5 347.4 L817.5 354.5 L819.3 365.8 L820.3 371.5 L821.5 377.1 L823.0 382.7 L824.5 387.3 L826.3 392.1 L827.8 395.6 L829.3 398.5 L830.8 400.6 L832.5 402.6 L839.0 408.9 L840.8 410.4 L843.0 411.9 L846.3 413.5 L849.8 414.9 L852.3 415.7 L856.0 416.4 L860.8 417.2 L865.5 417.7 L874.5 418.4 L884.0 418.8 L902.8 419.1 L921.8 419.1 L930.8 418.6 L933.0 418.3 L934.3 417.9 L935.3 417.3 L936.3 416.5 L936.8 415.8 L937.0 415.3 L938.3 411.0 L939.3 406.2 L940.3 403.5 L940.5 403.1 L940.8 403.0 L941.0 403.1 L942.3 404.9 L942.6 405.0 L942.8 404.8 L943.3 402.8 L944.0 398.6 L945.0 394.7 L945.5 393.1 L946.5 390.9 L947.0 390.2 L947.3 390.2 L947.8 390.6 L948.8 392.1 L949.0 392.3 L949.2 392.3 L949.3 392.2 L949.5 391.1 L949.8 389.1 L950.4 383.0 L951.3 370.3 L952.0 362.6 L952.5 359.1 L952.8 358.5 L953.0 358.8 L953.5 360.7 L954.3 366.3 L956.3 388.4 L957.0 395.7 L957.8 400.3 L958.0 401.0 L958.3 401.3 L958.5 400.9 L958.8 399.9 L959.5 393.6 L960.3 383.6 L962.3 353.2 L963.0 345.5 L963.5 342.9 L963.8 342.5 L964.0 342.7 L964.3 343.2 L964.8 345.1 L965.5 349.6 L967.8 366.5 L968.5 370.1 L968.8 370.9 L969.0 371.2 L969.2 371.3 L969.3 371.1 L969.5 369.5 L969.8 366.3 L971.3 338.1 L971.5 335.5 L971.8 334.5 L972.0 335.1 L972.3 336.7 L972.8 342.3 L974.5 370.0 L975.0 374.7 L975.3 375.7 L975.4 375.8 L975.5 375.5 L975.8 373.9 L976.3 367.2 L977.8 334.5 L978.5 321.6 L978.8 319.3 L979.1 318.2 L979.3 318.4 L979.5 319.1 L980.5 323.6 L980.8 324.3 L981.0 324.5 L981.3 323.4 L981.8 317.9 L982.8 302.4 L986.3 262.0 L987.0 255.3 L987.5 251.8 L988.0 249.3 L988.3 248.5 L988.5 248.0 L988.8 247.8 L989.0 249.3 L989.5 259.4 L990.8 296.4 L992.8 324.6 L994.0 338.9 L995.0 347.5 L995.5 350.6 L996.0 352.7 L996.5 353.9 L996.8 354.0 L997.0 353.7 L997.3 352.9 L997.8 349.9 L998.3 345.2 L998.8 339.1 L999.8 324.0 L1001.5 293.3 L1003.3 249.0 L1005.8 190.6 L1006.3 174.4 L1007.0 141.3 L1007.3 132.7 L1007.5 127.5 L1007.7 126.6 L1007.8 126.7 L1008.0 128.3 L1008.5 135.6 L1010.5 185.8 L1011.0 194.1 L1011.3 196.2 L1011.5 196.8 L1011.5 196.8 L1011.8 195.6 L1012.0 192.8 L1012.5 183.6 L1014.3 137.0 L1014.8 127.3 L1015.0 124.3 L1015.3 122.7 L1015.4 122.6 L1015.5 122.7 L1015.8 123.0 L1016.0 123.7 L1016.5 125.7 L1017.3 130.3 L1019.0 143.6 L1019.8 148.6 L1020.5 152.0 L1020.8 152.7 L1021.0 153.0 L1021.2 153.1 L1021.3 152.8 L1021.5 149.9 L1021.8 144.3 L1023.0 102.9 L1023.3 96.9 L1023.5 93.4 L1023.7 92.8 L1023.8 93.1 L1024.0 96.0 L1024.3 101.4 L1025.5 142.8 L1027.8 240.0 L1028.5 288.4 L1028.8 300.0 L1029.0 306.8 L1029.8 322.2 L1030.8 335.0 L1031.8 345.1 L1032.5 351.6 L1033.3 356.0 L1033.8 357.4 L1034.0 357.5 L1034.3 357.0 L1034.8 354.1 L1035.5 346.6 L1037.0 328.7 L1037.5 324.5 L1037.8 323.1 L1038.0 322.3 L1038.2 322.2 L1038.5 322.4 L1039.0 323.2 L1041.0 328.8 L1041.5 329.7 L1041.8 329.9 L1042.0 330.0 L1042.5 329.8 L1043.0 329.5 L1044.5 327.9 L1045.0 327.6 L1045.6 327.4 L1045.8 327.8 L1046.0 329.4 L1047.0 338.3 L1047.3 339.0 L1047.5 338.1 L1048.0 331.6 L1049.0 311.7 L1049.5 304.4 L1050.3 298.5 L1050.8 295.5 L1051.0 294.5 L1051.3 294.0 L1051.5 293.8 L1052.5 293.3 L1053.0 292.9 L1053.3 292.4 L1053.5 291.4 L1054.0 288.4 L1055.0 279.4 L1056.3 257.4 L1056.8 251.1 L1057.0 250.3 L1057.3 250.5 L1057.5 250.9 L1059.0 255.0 L1059.5 255.9 L1059.8 256.0 L1060.0 255.8 L1061.0 254.2 L1061.3 254.0 L1061.5 254.8 L1061.8 257.0 L1063.0 273.3 L1063.3 274.7 L1063.4 274.8 L1063.5 274.7 L1063.8 274.0 L1064.0 272.7 L1064.5 268.5 L1065.0 262.1 L1065.8 225.0 L1066.5 193.6 L1067.8 154.2 L1068.0 149.7 L1068.3 148.0 L1068.5 149.1 L1069.0 156.8 L1071.0 204.8 L1071.8 225.0 L1072.5 252.7 L1072.9 262.0 L1073.3 267.8 L1073.8 273.1 L1075.5 285.9 L1076.3 293.7 L1076.8 302.9 L1077.5 322.4 L1078.0 330.0 L1079.0 338.2 L1079.5 340.4 L1079.8 340.9 L1080.0 340.8 L1080.3 340.4 L1080.8 338.8 L1083.0 326.4 L1083.5 324.7 L1083.8 324.2 L1084.0 324.1 L1084.3 324.5 L1084.8 326.5 L1086.3 337.2 L1086.8 340.1 L1087.0 341.0 L1087.3 341.5 L1087.4 341.5 L1087.8 341.4 L1088.3 341.1 L1089.0 340.2 L1089.5 339.1 L1090.0 337.5 L1090.5 335.5 L1091.5 330.0 L1092.0 303.8 L1092.3 303.5 L1093.0 303.1 L1093.3 302.9 L1093.8 301.9 L1095.0 298.8 L1095.3 298.4 L1095.6 298.2 L1095.8 298.4 L1096.0 299.4 L1096.3 300.9 L1097.0 308.5 L1098.6 330.0 L1099.5 349.1 L1099.8 353.0 L1100.0 354.9 L1100.1 355.0 L1100.3 354.7 L1100.5 353.7 L1101.0 349.9 L1102.8 328.1 L1103.3 322.9 L1103.8 319.8 L1104.0 319.2 L1104.3 319.3 L1104.8 320.8 L1105.5 325.3 L1106.3 331.8 L1107.8 346.5 L1108.5 352.7 L1110.8 366.6 L1111.3 369.0 L1111.8 370.9 L1112.0 371.4 L1112.3 371.8 L1112.5 371.9 L1112.8 371.6 L1113.0 371.1 L1113.8 367.9 L1115.0 361.2 L1115.5 359.2 L1115.8 358.7 L1116.1 358.4 L1116.3 358.5 L1116.5 359.0 L1117.8 363.1 L1118.0 363.6 L1118.3 364.0 L1118.5 364.0 L1119.0 363.4 L1120.0 361.3 L1120.5 360.5 L1120.8 360.3 L1121.0 360.3 L1121.5 360.6 L1122.0 361.4 L1122.5 362.4 L1123.8 366.1 L1124.8 370.0 L1127.3 380.6 L1128.5 385.2 L1129.5 387.9 L1130.0 388.8 L1130.5 389.3 L1131.0 389.5 L1131.3 389.3 L1131.5 388.8 L1132.0 387.1 L1132.8 383.2 L1134.8 370.4 L1135.5 366.9 L1136.0 365.6 L1136.4 365.3 L1136.5 365.4 L1136.8 365.8 L1138.0 370.3 L1138.3 370.9 L1138.5 371.2 L1138.8 371.1 L1139.0 371.0 L1139.3 370.6 L1140.0 368.9 L1140.8 366.3 L1141.5 363.0 L1144.3 348.4 L1145.5 342.5 L1146.3 339.8 L1146.8 338.5 L1147.3 337.7 L1147.5 337.5 L1147.8 337.4 L1148.0 337.6 L1148.3 338.2 L1149.0 341.8 L1149.8 347.4 L1151.5 362.2 L1152.0 365.5 L1152.5 367.8 L1152.8 368.4 L1153.0 368.7 L1153.5 368.6 L1154.3 368.0 L1156.0 366.1 L1156.8 365.7 L1157.3 365.9 L1157.5 366.1 L1158.0 366.9 L1158.8 368.6 L1159.5 371.0 L1163.3 385.7 L1164.0 387.9 L1164.8 389.5 L1165.0 389.8 L1165.5 390.2 L1165.8 390.2 L1166.0 389.9 L1166.5 388.9 L1167.8 385.2 L1168.3 384.4 L1168.5 384.3 L1168.8 384.4 L1169.0 384.8 L1169.5 385.9 L1171.3 391.6 L1171.8 392.9 L1172.3 393.8 L1172.6 393.9 L1172.8 393.8 L1173.0 393.6 L1173.5 392.5 L1175.5 385.3 L1176.0 383.9 L1176.5 383.1 L1176.8 383.0 L1177.0 383.1 L1177.5 384.1 L1179.3 390.5 L1179.8 391.8 L1180.0 392.1 L1180.3 392.1 L1180.5 391.9 L1181.0 391.2 L1182.5 387.5 L1183.0 386.6 L1183.5 386.2 L1183.8 386.2 L1184.3 386.8 L1185.0 388.4 L1185.8 390.7 L1187.8 398.0 L1188.5 400.1 L1189.0 401.0 L1189.3 401.3 L1189.7 401.5 L1190.0 401.4 L1191.3 400.8 L1191.6 400.7 L1192.0 400.9 L1192.8 401.7 L1194.5 404.5 L1195.3 405.3 L1195.8 405.4 L1196.3 405.1 L1196.8 404.4 L1197.3 403.3 L1198.3 400.3 L1200.8 391.1 L1201.8 387.9 L1202.3 386.7 L1202.8 385.7 L1203.3 385.1 L1203.7 385.0 L1204.0 385.1 L1204.3 385.3 L1204.8 385.9 L1205.8 388.1 L1206.8 391.1 L1209.0 398.8 L1210.3 402.2 L1210.8 403.2 L1212.3 405.3 L1213.0 406.1 L1213.8 406.5 L1214.0 406.5 L1214.3 406.4 L1214.8 405.8 L1216.3 402.6 L1216.8 401.9 L1217.2 401.6 L1218.5 401.5 L1219.0 401.2 L1219.3 400.9 L1220.0 399.8 L1222.3 395.4 L1223.0 394.6 L1223.5 394.4 L1224.3 394.7 L1225.0 395.3 L1226.0 396.7 L1229.3 402.1 L1230.3 403.2 L1230.8 403.6 L1231.3 403.7 L1232.0 403.5 L1233.0 402.5 L1236.0 397.5 L1236.8 396.5 L1237.5 395.9 L1238.0 395.8 L1238.3 395.9 L1238.8 396.4 L1239.5 397.6 L1241.3 401.2 L1242.0 402.2 L1242.5 402.4 L1242.8 402.3 L1243.0 402.1 L1243.5 401.4 L1245.3 397.8 L1245.8 396.9 L1246.3 396.4 L1246.8 396.3 L1247.0 396.5 L1247.5 397.0 L1248.5 398.9 L1251.0 405.8 L1252.0 408.2 L1252.8 409.4 L1253.3 409.8 L1253.5 409.9 L1254.0 409.8 L1254.5 409.6 L1255.5 408.7 L1256.5 407.3 L1260.0 401.7 L1261.0 400.5 L1261.5 400.1 L1262.0 399.9 L1262.5 399.8 L1262.8 399.9 L1263.3 400.2 L1263.8 400.8 L1264.8 402.7 L1266.8 407.4 L1267.8 409.4 L1268.5 410.4 L1269.0 410.8 L1269.3 410.9 L1269.8 410.9 L1270.3 410.7 L1270.8 410.4 L1271.5 409.8 L1272.8 408.5 L1275.5 405.0 L1276.8 403.8 L1278.3 402.8 L1280.0 402.0" stroke="#b51f1f" stroke-width="4.2"/>
</g>
<rect x="180.2" y="11.2" width="481.3" height="411.3" fill="none" stroke="#000" stroke-width="2.9"/>
<rect x="796.4" y="11.0" width="480.8" height="411.4" fill="none" stroke="#000" stroke-width="2.9"/>
<text transform="translate(171.9,434.0) scale(1.000,1.040)" font-size="30.3" text-anchor="end" stroke="#000" stroke-width="0.50">−400</text>
<text transform="translate(171.9,351.7) scale(1.000,1.040)" font-size="30.3" text-anchor="end" stroke="#000" stroke-width="0.50">−200</text>
<text transform="translate(171.9,269.5) scale(1.000,1.040)" font-size="30.3" text-anchor="end" stroke="#000" stroke-width="0.50">0</text>
<text transform="translate(171.9,187.2) scale(1.000,1.040)" font-size="30.3" text-anchor="end" stroke="#000" stroke-width="0.50">200</text>
<text transform="translate(171.9,105.0) scale(1.000,1.040)" font-size="30.3" text-anchor="end" stroke="#000" stroke-width="0.50">400</text>
<text transform="translate(171.9,22.7) scale(1.000,1.040)" font-size="30.3" text-anchor="end" stroke="#000" stroke-width="0.50">600</text>
<text transform="translate(180.7,454.6) scale(1.000,1.040)" font-size="30.3" text-anchor="middle" stroke="#000" stroke-width="0.50">0</text>
<text transform="translate(301.0,454.6) scale(1.000,1.040)" font-size="30.3" text-anchor="middle" stroke="#000" stroke-width="0.50">50</text>
<text transform="translate(421.4,454.6) scale(1.000,1.040)" font-size="30.3" text-anchor="middle" stroke="#000" stroke-width="0.50">100</text>
<text transform="translate(541.7,454.6) scale(1.000,1.040)" font-size="30.3" text-anchor="middle" stroke="#000" stroke-width="0.50">150</text>
<text transform="translate(662.0,454.6) scale(1.000,1.040)" font-size="30.3" text-anchor="middle" stroke="#000" stroke-width="0.50">200</text>
<text transform="translate(788.1,433.9) scale(1.000,1.040)" font-size="30.3" text-anchor="end" stroke="#000" stroke-width="0.50">0</text>
<text transform="translate(788.1,316.4) scale(1.000,1.040)" font-size="30.3" text-anchor="end" stroke="#000" stroke-width="0.50">10</text>
<text transform="translate(788.1,198.8) scale(1.000,1.040)" font-size="30.3" text-anchor="end" stroke="#000" stroke-width="0.50">20</text>
<text transform="translate(788.1,81.3) scale(1.000,1.040)" font-size="30.3" text-anchor="end" stroke="#000" stroke-width="0.50">30</text>
<text transform="translate(796.9,454.6) scale(1.000,1.040)" font-size="30.3" text-anchor="middle" stroke="#000" stroke-width="0.50">0</text>
<text transform="translate(957.2,454.6) scale(1.000,1.040)" font-size="30.3" text-anchor="middle" stroke="#000" stroke-width="0.50">5</text>
<text transform="translate(1117.4,454.6) scale(1.000,1.040)" font-size="30.3" text-anchor="middle" stroke="#000" stroke-width="0.50">10</text>
<text transform="translate(1277.7,454.6) scale(1.000,1.040)" font-size="30.3" text-anchor="middle" stroke="#000" stroke-width="0.50">15</text>
<text transform="translate(422.1,499.2) scale(1.030,1.000)" font-size="35.5" text-anchor="middle" stroke="#000" stroke-width="0.50">Time [a.u.]</text>
<text transform="translate(1036.8,499.2) scale(1.030,1.000)" font-size="35.5" text-anchor="middle" stroke="#000" stroke-width="0.50">Energy [eV]</text>
<text transform="translate(28.1,220.2) rotate(-90) scale(1.030,1.000)" font-size="35.5" text-anchor="middle" stroke="#000" stroke-width="0.50">Current density</text>
<text transform="translate(69.4,304.8) rotate(-90) scale(0.885,1.000)" font-size="35.5" text-anchor="start" stroke="#000" stroke-width="0.50">[10</text>
<text transform="translate(56.5,253.2) rotate(-90) scale(0.845,1.000)" font-size="24.5" text-anchor="start" stroke="#000" stroke-width="0.50">−</text>
<text transform="translate(56.5,239.2) rotate(-90)" font-size="24.5" text-anchor="start" stroke="#000" stroke-width="0.50">6</text>
<text transform="translate(69.4,211.6) rotate(-90) scale(1.030,1.000)" font-size="35.5" text-anchor="start" stroke="#000" stroke-width="0.50">a.u.]</text>
<text transform="translate(729.6,217.5) rotate(-90) scale(0.960,1.000)" font-size="35.5" text-anchor="middle" stroke="#000" stroke-width="0.50">Im(ε)</text>
<rect x="428.3" y="26.2" width="218" height="100" rx="5" ry="5" fill="#fff" fill-opacity="0.8" stroke="#cfcfcf" stroke-width="2.4"/>
<line x1="439" y1="51.5" x2="473" y2="51.5" stroke="#b51f1f" stroke-width="4.2"/>
<line x1="439" y1="96.4" x2="473" y2="96.4" stroke="#4169e1" stroke-width="4.2"/>
<text class="mono" transform="translate(487.0,62.2) scale(1.000,1.020)" font-size="30.3" text-anchor="start" stroke="#000" stroke-width="0.50">exciting</text>
<text transform="translate(487.0,106.6) scale(1.000,1.020)" font-size="30.3" text-anchor="start" stroke="#000" stroke-width="0.50">Octopus</text>
<rect x="1044.8" y="21.8" width="222.2" height="55.2" rx="5" ry="5" fill="#fff" fill-opacity="0.8" stroke="#cfcfcf" stroke-width="2.4"/>
<rect x="1057" y="35" width="31.3" height="20.5" fill="url(#gleg)"/>
<text transform="translate(1102.4,57.7) scale(1.013,1.030)" font-size="30.3" text-anchor="start" stroke="#000" stroke-width="0.50">LR-TDDFT</text>
</svg></body></html>
